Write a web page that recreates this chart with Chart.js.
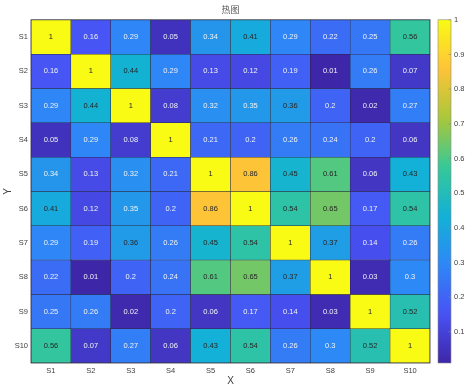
<!DOCTYPE html>
<html>
<head>
<meta charset="utf-8">
<script src="https://cdn.jsdelivr.net/npm/chart.js@4.4.0/dist/chart.umd.min.js"></script>
<style>
  html, body { margin: 0; padding: 0; background: #fff; }
  #wrap { width: 474px; height: 390px; }
</style>
</head>
<body>
<div id="wrap"><canvas id="heat"></canvas></div>
<script>
// DATA
const labels = ['S1', 'S2', 'S3', 'S4', 'S5', 'S6', 'S7', 'S8', 'S9', 'S10'];
const rowS1 = [1, 0.16, 0.29, 0.05, 0.34, 0.41, 0.29, 0.22, 0.25, 0.56];
const rowS2 = [0.16, 1, 0.44, 0.29, 0.13, 0.12, 0.19, 0.01, 0.26, 0.07];
const rowS3 = [0.29, 0.44, 1, 0.08, 0.32, 0.35, 0.36, 0.2, 0.02, 0.27];
const rowS4 = [0.05, 0.29, 0.08, 1, 0.21, 0.2, 0.26, 0.24, 0.2, 0.06];
const rowS5 = [0.34, 0.13, 0.32, 0.21, 1, 0.86, 0.45, 0.61, 0.06, 0.43];
const rowS6 = [0.41, 0.12, 0.35, 0.2, 0.86, 1, 0.54, 0.65, 0.17, 0.54];
const rowS7 = [0.29, 0.19, 0.36, 0.26, 0.45, 0.54, 1, 0.37, 0.14, 0.26];
const rowS8 = [0.22, 0.01, 0.2, 0.24, 0.61, 0.65, 0.37, 1, 0.03, 0.3];
const rowS9 = [0.25, 0.26, 0.02, 0.2, 0.06, 0.17, 0.14, 0.03, 1, 0.52];
const rowS10 = [0.56, 0.07, 0.27, 0.06, 0.43, 0.54, 0.26, 0.3, 0.52, 1];
const rows = [rowS1, rowS2, rowS3, rowS4, rowS5, rowS6, rowS7, rowS8, rowS9, rowS10];
const cbTicks = [0.1, 0.2, 0.3, 0.4, 0.5, 0.6, 0.7, 0.8, 0.9, 1];
const cbMin = 0.01;
const cbMax = 1;

// parula-like colormap anchors
const parula = [
  [62, 38, 168], [72, 82, 244], [46, 135, 247], [18, 177, 214],
  [55, 200, 151], [171, 199, 57], [254, 195, 56], [249, 251, 21]
];
function colorAt(t) {
  t = Math.max(0, Math.min(1, t));
  const pos = t * (parula.length - 1);
  const i = Math.min(Math.floor(pos), parula.length - 2);
  const f = pos - i;
  const a = parula[i], b = parula[i + 1];
  const c = a.map((v, k) => Math.round(v + (b[k] - v) * f));
  return 'rgb(' + c.join(',') + ')';
}
function colorOf(v) {
  return colorAt((v - cbMin) / (cbMax - cbMin));
}

const FONT = "'Liberation Sans', Arial, sans-serif";
const TXT = '#404040';

// cell value labels
const cellText = {
  id: 'cellText',
  afterDatasetsDraw(chart) {
    const ctx = chart.ctx;
    ctx.save();
    ctx.font = '7.5px ' + FONT;
    ctx.textAlign = 'center';
    ctx.textBaseline = 'middle';
    chart.data.datasets.forEach((ds, r) => {
      chart.getDatasetMeta(r).data.forEach((bar, c) => {
        const v = rows[r][c];
        ctx.fillStyle = v >= 0.36 ? '#262626' : '#eef2f6';
        ctx.fillText(String(v), bar.x, (bar.y + bar.base) / 2);
      });
    });
    // frame
    const a = chart.chartArea;
    ctx.strokeStyle = '#2b2b3b';
    ctx.lineWidth = 0.8;
    ctx.strokeRect(a.left, a.top, a.right - a.left, a.bottom - a.top);
    ctx.restore();
  }
};

// colorbar on the right
const colorBar = {
  id: 'colorBar',
  afterDraw(chart) {
    const ctx = chart.ctx;
    const a = chart.chartArea;
    const x = a.right + 8, w = 13;
    const top = a.top, bottom = a.bottom;
    const grad = ctx.createLinearGradient(0, bottom, 0, top);
    for (let i = 0; i <= 40; i++) grad.addColorStop(i / 40, colorAt(i / 40));
    ctx.save();
    ctx.fillStyle = grad;
    ctx.fillRect(x, top, w, bottom - top);
    ctx.strokeStyle = '#8a8a8a';
    ctx.lineWidth = 0.6;
    ctx.strokeRect(x, top, w, bottom - top);
    ctx.font = '7.5px ' + FONT;
    ctx.fillStyle = TXT;
    ctx.textAlign = 'left';
    ctx.textBaseline = 'middle';
    cbTicks.forEach((t) => {
      const y = bottom - (t - cbMin) / (cbMax - cbMin) * (bottom - top);
      ctx.beginPath();
      ctx.moveTo(x + w - 2.5, y);
      ctx.lineTo(x + w, y);
      ctx.stroke();
      ctx.fillText(String(t), x + w + 3, y);
    });
    ctx.restore();
  }
};

const datasets = rows.map((row, r) => ({
  label: labels[r],
  data: row.map(() => [r - 0.5, r + 0.5]),
  backgroundColor: row.map(colorOf),
  borderColor: '#2b2b3b',
  borderWidth: 0.5,
  borderSkipped: false,
  barPercentage: 1,
  categoryPercentage: 1,
  grouped: false
}));

new Chart(document.getElementById('heat'), {
  type: 'bar',
  data: { labels, datasets },
  options: {
    responsive: true,
    maintainAspectRatio: false,
    animation: false,
    devicePixelRatio: 1,
    layout: { padding: { left: 0, right: 44, top: 0, bottom: 0 } },
    plugins: {
      legend: { display: false },
      tooltip: { enabled: false },
      title: {
        display: true,
        fullSize: false,
        text: '热图',
        color: '#555',
        font: { family: "'Noto Sans CJK SC', sans-serif", size: 9, weight: 'normal' },
        padding: { top: 4, bottom: 5 }
      }
    },
    scales: {
      x: {
        type: 'category',
        offset: true,
        grid: { display: false, drawTicks: false },
        border: { display: false },
        ticks: { font: { family: FONT, size: 7.5 }, color: TXT, padding: 3, autoSkip: false, maxRotation: 0 },
        title: { display: true, text: 'X', color: TXT, font: { family: FONT, size: 10 }, padding: { top: 0, bottom: 3 } },
        afterFit(s) { s.height = 27; }
      },
      y: {
        type: 'linear',
        reverse: true,
        min: -0.5,
        max: 9.5,
        afterBuildTicks(s) { s.ticks = labels.map((_, i) => ({ value: i })); },
        grid: { display: false, drawTicks: false },
        border: { display: false },
        ticks: { font: { family: FONT, size: 7.5 }, color: TXT, padding: 3, autoSkip: false, callback: (v) => labels[v] },
        title: { display: true, text: 'Y', color: TXT, font: { family: FONT, size: 10 }, padding: { top: 2, bottom: 0 } },
        afterFit(s) { s.width = 31; }
      }
    }
  },
  plugins: [cellText, colorBar]
});
</script>
</body>
</html>
